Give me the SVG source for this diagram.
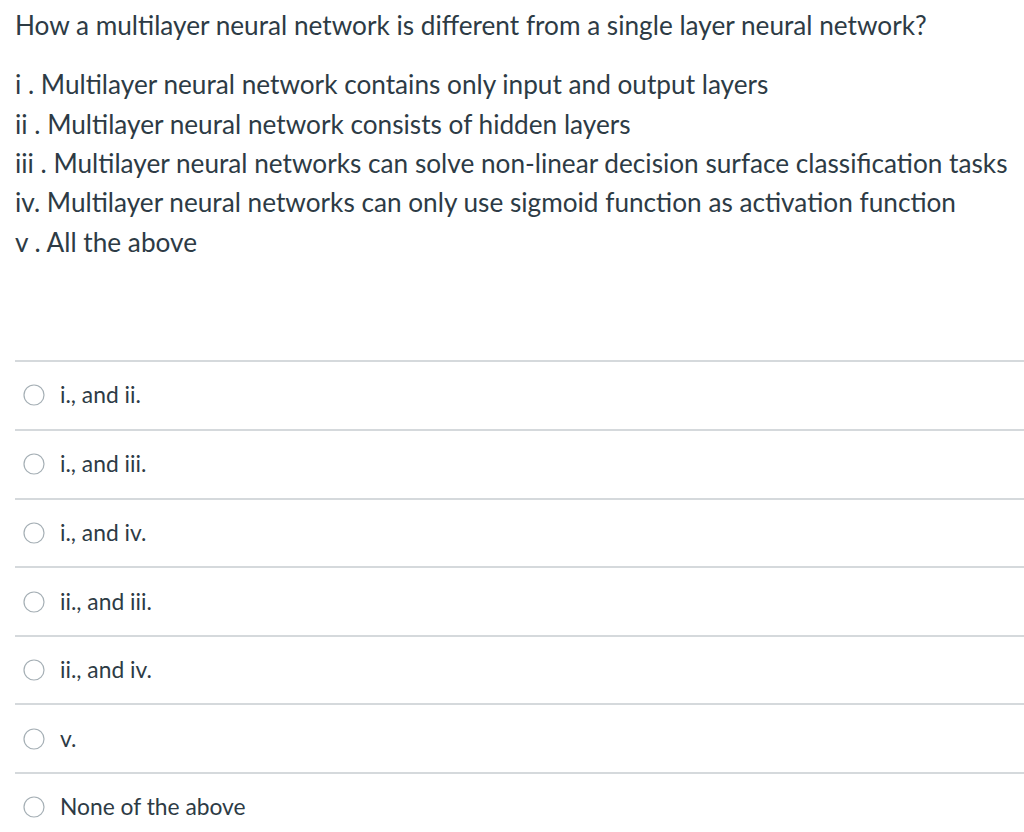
<svg xmlns="http://www.w3.org/2000/svg" width="1024" height="832" viewBox="0 0 1024 832">
<style>
text{font-family:Lato,"Liberation Sans",sans-serif;fill:#2d3b45}
.q{font-size:26.2px}
.o{font-size:22.8px}
.l{stroke:#c7cdd1;stroke-width:1.5}
.r{fill:#fff;stroke:#a5afb5;stroke-width:1.2}
</style>
<rect width="1024" height="832" fill="#fff"/>
<text class="q" x="15" y="35">How a multilayer neural network is different from a single layer neural network?</text>
<text class="q" x="15" y="94">i . Multilayer neural network contains only input and output layers</text>
<text class="q" x="15" y="134">ii . Multilayer neural network consists of hidden layers</text>
<text class="q" x="15" y="173">iii . Multilayer neural networks can solve non-linear decision surface classification tasks</text>
<text class="q" x="15" y="212">iv. Multilayer neural networks can only use sigmoid function as activation function</text>
<text class="q" x="15" y="252">v . All the above</text>
<g>
<line class="l" x1="15" y1="361" x2="1024" y2="361"/>
<line class="l" x1="15" y1="430" x2="1024" y2="430"/>
<line class="l" x1="15" y1="499" x2="1024" y2="499"/>
<line class="l" x1="15" y1="567" x2="1024" y2="567"/>
<line class="l" x1="15" y1="636" x2="1024" y2="636"/>
<line class="l" x1="15" y1="704" x2="1024" y2="704"/>
<line class="l" x1="15" y1="773" x2="1024" y2="773"/>
</g>
<g>
<circle class="r" cx="34" cy="395" r="10"/><text class="o" x="60" y="403">i., and ii.</text>
<circle class="r" cx="34" cy="464" r="10"/><text class="o" x="60" y="472">i., and iii.</text>
<circle class="r" cx="34" cy="533" r="10"/><text class="o" x="60" y="541">i., and iv.</text>
<circle class="r" cx="34" cy="602" r="10"/><text class="o" x="60" y="610">ii., and iii.</text>
<circle class="r" cx="34" cy="670" r="10"/><text class="o" x="60" y="678">ii., and iv.</text>
<circle class="r" cx="34" cy="739" r="10"/><text class="o" x="60" y="747">v.</text>
<circle class="r" cx="34" cy="807" r="10"/><text class="o" x="60" y="815">None of the above</text>
</g>
</svg>
